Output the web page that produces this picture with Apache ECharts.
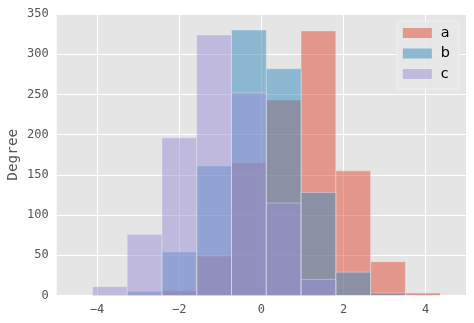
<!DOCTYPE html>
<html>
<head>
<meta charset="utf-8">
<script src="https://cdn.jsdelivr.net/npm/echarts@6/dist/echarts.min.js"></script>
<style>
html,body{margin:0;padding:0;background:#ffffff;}
#chart{width:474px;height:323px;}
</style>
</head>
<body>
<div id="chart"></div>
<script>
// Data (shared bin edges, 10 bins)
const binEdges = [-4.11, -3.264, -2.418, -1.572, -0.726, 0.12, 0.966, 1.812, 2.658, 3.504, 4.35];
const seriesNames = ['a', 'b', 'c'];
const countsA = [0, 0, 6, 49, 165, 243, 329, 155, 42, 3];
const countsB = [0, 5, 54, 161, 330, 282, 128, 29, 3, 0];
const countsC = [11, 76, 196, 324, 252, 115, 20, 0, 0, 0];
const xTicks = [-4, -2, 0, 2, 4];
const yLabel = 'Degree';

const colors = ['rgba(226,74,51,0.5)', 'rgba(52,138,189,0.5)', 'rgba(152,142,213,0.5)'];
const allCounts = [countsA, countsB, countsC];
const mono = "'DejaVu Sans Mono', monospace";

function histData(counts) {
  return counts.map((c, i) => [binEdges[i], binEdges[i + 1], c]);
}

function renderBar(params, api) {
  const p0 = api.coord([api.value(0), api.value(2)]);
  const p1 = api.coord([api.value(1), 0]);
  return {
    type: 'rect',
    shape: { x: p0[0], y: p0[1], width: p1[0] - p0[0], height: p1[1] - p0[1] },
    style: {
      fill: api.visual('color'),
      stroke: 'rgba(238,238,238,0.5)',
      lineWidth: 0.8
    }
  };
}

const chart = echarts.init(document.getElementById('chart'), null, { renderer: 'canvas' });
chart.setOption({
  animation: false,
  backgroundColor: '#ffffff',
  grid: { left: 56.7, right: 8, top: 14, bottom: 27.5, show: true, backgroundColor: '#E5E5E5', borderWidth: 0,
    containLabel: false, outerBoundsMode: 'none' },
  legend: {
    orient: 'vertical',
    right: 15,
    top: 21,
    itemWidth: 29,
    itemHeight: 10,
    itemGap: 6.5,
    padding: [5, 9, 8, 6],
    backgroundColor: 'rgba(232,232,232,0.85)',
    borderColor: 'rgba(240,240,240,0.9)',
    borderWidth: 1,
    borderRadius: 2,
    icon: 'rect',
    textStyle: { fontFamily: "'DejaVu Sans', sans-serif", fontSize: 14.4, lineHeight: 14, color: '#000000', padding: [0, 0, 0, 4] },
    data: seriesNames
  },
  xAxis: {
    type: 'value',
    min: -4.98,
    max: 4.98,
    axisLine: { show: false },
    axisTick: { show: false, customValues: xTicks },
    axisLabel: { customValues: xTicks, fontFamily: mono, fontSize: 12, color: '#555555', margin: 8,
      formatter: v => (v < 0 ? '\u2212' + Math.abs(v) : String(v)) },
    splitLine: { show: true, lineStyle: { color: '#ffffff', width: 1 } }
  },
  yAxis: {
    type: 'value',
    min: 0,
    max: 350,
    interval: 50,
    name: yLabel,
    nameLocation: 'middle',
    nameRotate: 90,
    nameGap: 36,
    nameMoveOverlap: false,
    nameTextStyle: { fontFamily: mono, fontSize: 14.4, color: '#555555' },
    axisLine: { show: false },
    axisTick: { show: false },
    axisLabel: { fontFamily: mono, fontSize: 12, color: '#555555', margin: 8 },
    splitLine: { show: true, lineStyle: { color: '#ffffff', width: 1 } }
  },
  series: seriesNames.map((name, k) => ({
    name: name,
    type: 'custom',
    renderItem: renderBar,
    encode: { x: [0, 1], y: 2 },
    itemStyle: { color: colors[k] },
    data: histData(allCounts[k]),
    z: 2 + k
  }))
});
</script>
</body>
</html>
